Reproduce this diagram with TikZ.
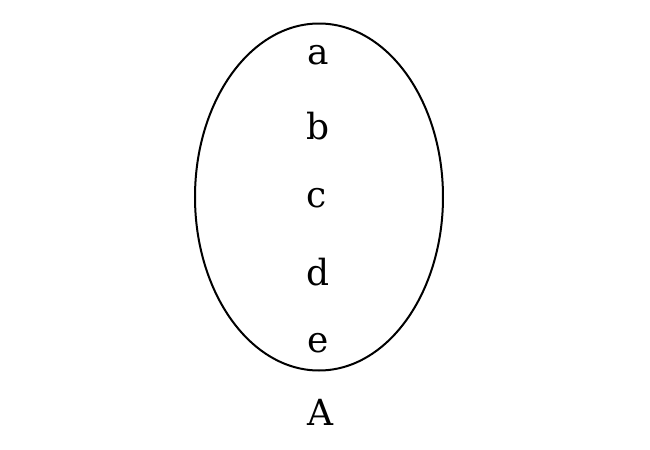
\documentclass[tikz,border=0pt]{standalone}
\usepackage{tikz}
\usepackage{fontspec}
\setmainfont{DejaVu Serif}
\usetikzlibrary{shapes.geometric}
\begin{document}
\begin{tikzpicture}[x=0.5pt,y=-0.5pt]
        \tikzset{setE/.style={draw,line width=1pt,ellipse,minimum width=124pt,minimum height=173.5pt,inner sep=0pt},
                 elemT/.style={font=\fontsize{18}{21}\selectfont,inner sep=0pt}}
        \useasboundingbox (0,0) rectangle (650,450);
        \node[setE] (setA) at (319,197) {};
        \node[elemT] (a) at (318,55) {a};
        \node[elemT] (b) at (318,126) {b};
        \node[elemT] (c) at (317,198) {c};
        \node[elemT] (d) at (318,272) {d};
        \node[elemT] (e) at (318,343) {e};
        \node[elemT] (lblA) at (320,412) {A};
        \end{tikzpicture}
\end{document}
